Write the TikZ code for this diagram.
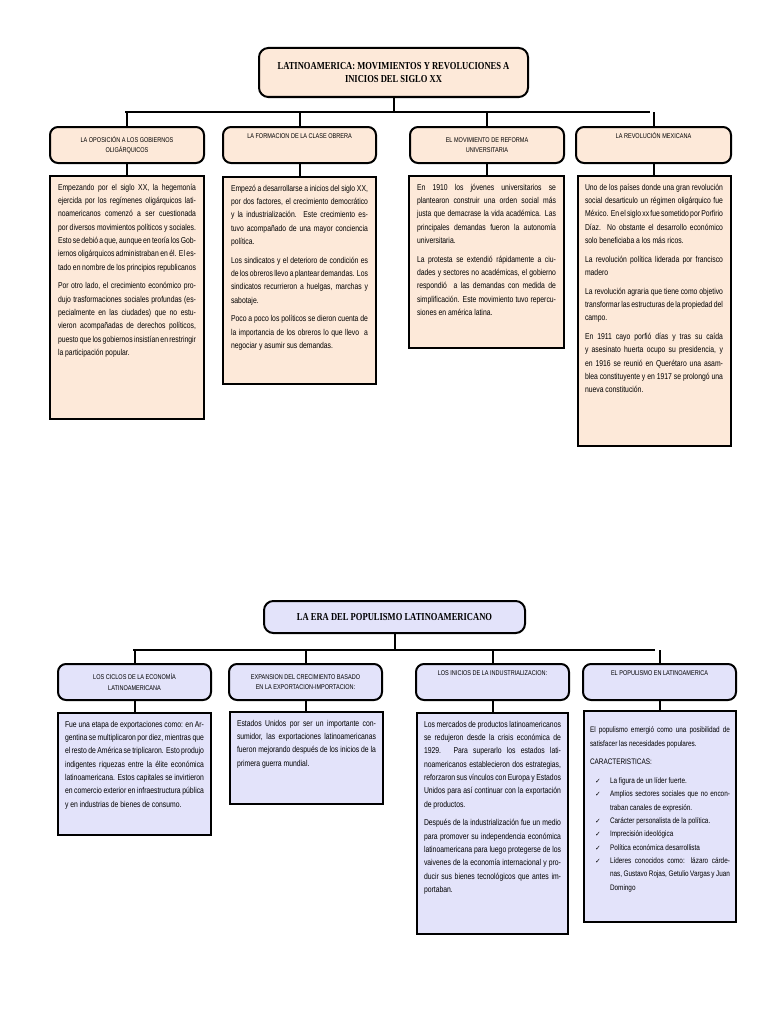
\documentclass[tikz,border=0pt]{standalone}
\usepackage{fontspec}
\setmainfont{Liberation Sans}[FakeStretch=0.8]
\newfontfamily\ttlfont{Liberation Serif}[FakeStretch=0.8]
\newfontfamily\ckfont{DejaVu Sans}
\usetikzlibrary{calc}
\newcommand{\ckitem}[1]{{\leftskip=15pt\noindent\llap{{\ckfont\fontsize{5}{6}\selectfont ✓}\hspace{7pt}}#1\par}}
\definecolor{peach}{HTML}{FDE9D9}
\definecolor{lav}{HTML}{E3E3FA}
\begin{document}
\begin{tikzpicture}[x=0.75pt,y=-0.75pt,line width=1.5pt,
  ttl/.style={draw,rounded corners=7pt,anchor=north west,font=\ttlfont\bfseries\fontsize{8}{10}\selectfont,align=center,inner sep=0pt},
  hdr/.style={draw,rounded corners=6pt,anchor=north west,font=\fontsize{5.2}{8}\selectfont,align=center,inner sep=0pt,minimum height=36*0.75pt},
  box/.style={draw,anchor=north west,inner sep=0pt},
  txt/.style={anchor=north west,inner sep=0pt,align=justify,font=\fontsize{6.4}{10}\selectfont},
  pk/.style={fill=peach},lv/.style={fill=lav}]
\useasboundingbox[fill=white] (0,0) rectangle (768,1024);
% ---------- top ----------
\node[ttl,pk,minimum width=269*0.75pt,minimum height=49*0.75pt] (T) at (258,47) {LATINOAMERICA: MOVIMIENTOS Y REVOLUCIONES A\\INICIOS DEL SIGLO XX};
\coordinate (bl) at (125,112); \coordinate (br) at (650,112);
\foreach \n/\x/\w/\t in {h1/49/154/{LA OPOSICIÓN A LOS GOBIERNOS\\OLIGÁRQUICOS},h2/222/153/{LA FORMACION DE LA CLASE OBRERA\\[6pt]},h3/409/154/{EL MOVIMIENTO DE REFORMA\\UNIVERSITARIA},h4/575/155/{LA REVOLUCIÓN MEXICANA\\[6pt]}}
  \node[hdr,pk,minimum width=\w*0.75pt] (\n) at (\x,126) {\t};
\node[box,pk,minimum width=154*0.75pt,minimum height=243*0.75pt] (b1) at (49,175) {};
\node[box,pk,minimum width=153*0.75pt,minimum height=207*0.75pt] (b2) at (222,176) {};
\node[box,pk,minimum width=155*0.75pt,minimum height=172*0.75pt] (b3) at (408,175) {};
\node[box,pk,minimum width=153*0.75pt,minimum height=270*0.75pt] (b4) at (577,175) {};
\draw (bl) -- (br);
\draw (T.south) -- (T.south|-bl);
\foreach \i in {1,2,3,4}{\draw (h\i.north) -- (h\i.north|-bl); \draw (h\i.south) -- (h\i.south|-b\i.north);}
\node[txt,text width=138*0.75pt] (t1) at ($(b1.north west)+(8,8)$) {Empezando por el siglo XX, la hegemonía ejercida por los regímenes oligárquicos latinoamericanos comenzó a ser cuestionada por diversos movimientos políticos y sociales. Esto se debió a que, aunque en teoría los Gobiernos oligárquicos administraban en él. El estado en nombre de los principios republicanos\par\vspace{4pt}Por otro lado, el crecimiento económico produjo trasformaciones sociales profundas (especialmente en las ciudades) que no estuvieron acompañadas de derechos políticos, puesto que los gobiernos insistían en restringir la participación popular.};
\node[txt,text width=137*0.75pt] (t2) at ($(b2.north west)+(8,8)$) {Empezó a desarrollarse a inicios del siglo XX, por dos factores, el crecimiento democrático y la industrialización. Este crecimiento estuvo acompañado de una mayor conciencia política.\par\vspace{4pt}Los sindicatos y el deterioro de condición es de los obreros llevo a plantear demandas. Los sindicatos recurrieron a huelgas, marchas y sabotaje.\par\vspace{4pt}Poco a poco los políticos se dieron cuenta de la importancia de los obreros lo que llevo \ a negociar y asumir sus demandas.};
\node[txt,text width=139*0.75pt] (t3) at ($(b3.north west)+(8,8)$) {En 1910 los jóvenes universitarios se plantearon construir una orden social más justa que demacrase la vida académica. Las principales demandas fueron la autonomía universitaria.\par\vspace{4pt}La protesta se extendió rápidamente a ciudades y sectores no académicas, el gobierno respondió \ a las demandas con medida de simplificación. Este movimiento tuvo repercusiones en américa latina.};
\node[txt,text width=138*0.75pt] (t4) at ($(b4.north west)+(7,8)$) {Uno de los países donde una gran revolución social desarticulo un régimen oligárquico fue México. En el siglo xx fue sometido por Porfirio Díaz. No obstante el desarrollo económico solo beneficiaba a los más ricos.\par\vspace{4pt}La revolución política liderada por francisco madero\par\vspace{4pt}La revolución agraria que tiene como objetivo transformar las estructuras de la propiedad del campo.\par\vspace{4pt}En 1911 cayo porfió días y tras su caída y asesinato huerta ocupo su presidencia, y en 1916 se reunió en Querétaro una asamblea constituyente y en 1917 se prolongó una nueva constitución.};
% ---------- bottom ----------
\node[ttl,lv,minimum width=261*0.75pt,minimum height=32*0.75pt] (B) at (263,600) {LA ERA DEL POPULISMO LATINOAMERICANO};
\coordinate (cl) at (133,650); \coordinate (cr) at (655,650);
\foreach \n/\x/\t in {g1/57/{LOS CICLOS DE LA ECONOMÍA\\LATINOAMERICANA},g2/228/{EXPANSION DEL CRECIMIENTO BASADO\\EN LA EXPORTACION-IMPORTACION:},g3/415/{LOS INICIOS DE LA INDUSTRIALIZACION:\\[6pt]},g4/582/{EL POPULISMO EN LATINOAMERICA\\[6pt]}}
  \node[hdr,lv,minimum width=153*0.75pt] (\n) at (\x,663) {\t};
\node[box,lv,minimum width=153*0.75pt,minimum height=122*0.75pt] (c1) at (57,712) {};
\node[box,lv,minimum width=153*0.75pt,minimum height=92*0.75pt] (c2) at (229,711) {};
\node[box,lv,minimum width=151*0.75pt,minimum height=221*0.75pt] (c3) at (416,712) {};
\node[box,lv,minimum width=152*0.75pt,minimum height=211*0.75pt] (c4) at (583,710) {};
\draw (cl) -- (cr);
\draw (B.south) -- (B.south|-cl);
\foreach \i in {1,2,3,4}{\draw (g\i.north) -- (g\i.north|-cl); \draw (g\i.south) -- (g\i.south|-c\i.north);}
\node[txt,text width=139*0.75pt] at ($(c1.north west)+(7,8)$) {Fue una etapa de exportaciones como: en Argentina se multiplicaron por diez, mientras que el resto de América se triplicaron. Esto produjo indigentes riquezas entre la élite económica latinoamericana. Estos capitales se invirtieron en comercio exterior en infraestructura pública y en industrias de bienes de consumo.};
\node[txt,text width=139*0.75pt] at ($(c2.north west)+(7,8)$) {Estados Unidos por ser un importante consumidor, las exportaciones latinoamericanas fueron mejorando después de los inicios de la primera guerra mundial.};
\node[txt,text width=137*0.75pt] at ($(c3.north west)+(7,8)$) {Los mercados de productos latinoamericanos se redujeron desde la crisis económica de 1929. Para superarlo los estados latinoamericanos establecieron dos estrategias, reforzaron sus vínculos con Europa y Estados Unidos para así continuar con la exportación de productos.\par\vspace{4pt}Después de la industrialización fue un medio para promover su independencia económica latinoamericana para luego protegerse de los vaivenes de la economía internacional y producir sus bienes tecnológicos que antes importaban.};
\node[txt,text width=140*0.75pt,font=\fontsize{6}{10}\selectfont] at ($(c4.north west)+(6,16)$) {El populismo emergió como una posibilidad de satisfacer las necesidades populares.\par\vspace{4pt}\noindent CARACTERISTICAS:\par\vspace{4pt}
\ckitem{La figura de un líder fuerte.}\ckitem{Amplios sectores sociales que no encontraban canales de expresión.}\ckitem{Carácter personalista de la política.}\ckitem{Imprecisión ideológica}\ckitem{Política económica desarrollista}\ckitem{Líderes conocidos como: lázaro cárdenas, Gustavo Rojas, Getulio Vargas y Juan Domingo}};
\end{tikzpicture}
\end{document}
